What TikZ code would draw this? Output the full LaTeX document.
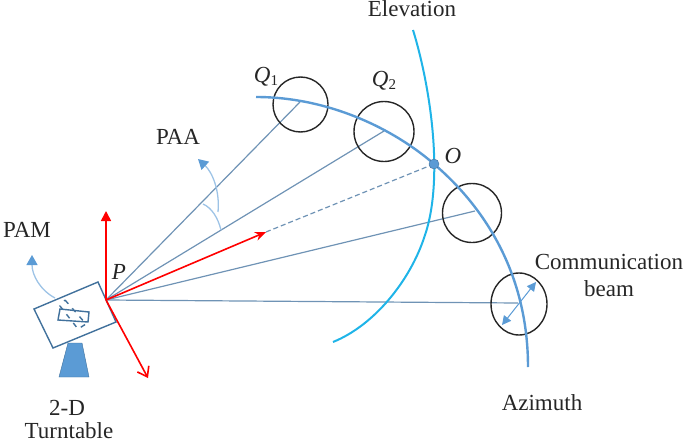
\documentclass[tikz,border=0pt]{standalone}
\usepackage{fontspec}
\setmainfont{Liberation Serif}
\usetikzlibrary{arrows.meta}
\definecolor{beamblue}{HTML}{5B9BD5}
\definecolor{swingblue}{HTML}{9DC3E6}
\definecolor{linkblue}{HTML}{6F93B5}
\definecolor{boxblue}{HTML}{41719C}
\definecolor{elevblue}{HTML}{1FB4E8}
\tikzset{
    lbl/.style={font=\fontsize{23}{25}\selectfont, text=black!85, inner sep=0pt},
    link/.style={draw=linkblue, line width=1.2pt},
    redvec/.style={draw=red, line width=1.6pt},
    beam/.style={draw=black!85, line width=1.4pt},
    swing/.style={draw=swingblue, line width=1.3pt},
    swingtip/.style={-{Triangle[length=10pt,width=11pt,color=beamblue]}}
}
\begin{document}
\begin{tikzpicture}[x=1pt, y=-1pt, >=stealth]
    \useasboundingbox (0,0) rectangle (685,444);
    % Coordinates
    \coordinate (P) at (106,300);
    \coordinate (O) at (434,164);
    \coordinate (C1) at (300.5,104.5);
    \coordinate (C2) at (384,131.5);
    \coordinate (C3) at (472,213);
    \coordinate (C4) at (519,304);
    \coordinate (R) at (266,232);

    % Links
    \draw[link] (P) -- (300,102);
    \draw[link] (P) -- (384,131);
    \draw[link] (P) -- (475,211);
    \draw[link] (P) -- (518,303);
    \draw[link, dash pattern=on 5pt off 3pt] (R) -- (O);

    % Beams
    \draw[beam] (C1) circle (27.5);
    \draw[beam] (C2) circle (30);
    \draw[beam] (C3) circle (29.5);
    \draw[beam] (C4) ellipse (28 and 31);

    % Elevation and azimuth
    \draw[elevblue, line width=2pt] (413,30) .. controls (430,85) and (445,180) .. (424,238) .. controls (410,280) and (375,325) .. (333,342);
    \draw[beamblue, line width=2.4pt] (256,97) .. controls (330,97) and (395,130) .. (434,164) .. controls (490,212) and (528,280) .. (528,367);
    \filldraw[fill=beamblue, draw=boxblue] (O) circle (5);

    % Turntable
    \fill[beamblue, draw=boxblue] (68,343) -- (82,343) -- (89,377) -- (59,377) -- cycle;
    \draw[boxblue, line width=1.4pt, fill=white] (34,309) -- (98,282) -- (116,322) -- (53,348) -- cycle;
    \draw[boxblue, line width=1.4pt] (60,309) -- (89,312) -- (88,322) -- (58,320) -- cycle;
    \draw[boxblue, line width=1.4pt, dash pattern=on 5pt off 6pt] (65,300) -- (86,324) -- (78,329) -- (60,306) -- cycle;

    % Red vectors
    \draw[redvec, -{Triangle[length=10pt,width=10pt]}] (P) -- (106,211);
    \draw[redvec, -{Straight Barb[length=9pt,width=13pt]}] (P) -- (148,378);
    \draw[redvec, -{Stealth[length=11pt,width=9pt]}] (P) -- (R);

    % Swings
    \draw[swing, swingtip] (55,298) .. controls (40,290) and (32,275) .. (32,255);
    \draw[swing, swingtip] (218,212) .. controls (220,190) and (212,172) .. (198,159);
    \draw[swing] (221,230) .. controls (218,218) and (212,208) .. (203,204);
    \draw[draw=beamblue, line width=1pt, {Triangle[length=9pt,width=9pt]}-{Triangle[length=9pt,width=9pt]}] (502,325) -- (536,282);

    % Labels
    \node[lbl] (pam) at (27,230) {PAM};
    \node[lbl] (pp) at (119,272) {\itshape P};
    \node[lbl] (paa) at (178,137) {PAA};
    \node[lbl] (qa) at (266,77) {\itshape Q\normalfont\fontsize{15}{15}\selectfont\raisebox{-3pt}{1}};
    \node[lbl] (qb) at (384,81) {\itshape Q\normalfont\fontsize{15}{15}\selectfont\raisebox{-3pt}{2}};
    \node[lbl] (oo) at (453,156) {\itshape O};
    \node[lbl] (elev) at (412,9) {Elevation};
    \node[lbl] (azim) at (542,403) {Azimuth};
    \node[lbl] (comm) at (609,262) {Communication};
    \node[lbl] (bm) at (609,289) {beam};
    \node[lbl] (twod) at (67,408) {2-D};
    \node[lbl] (turn) at (69,431) {Turntable};
\end{tikzpicture}
\end{document}
